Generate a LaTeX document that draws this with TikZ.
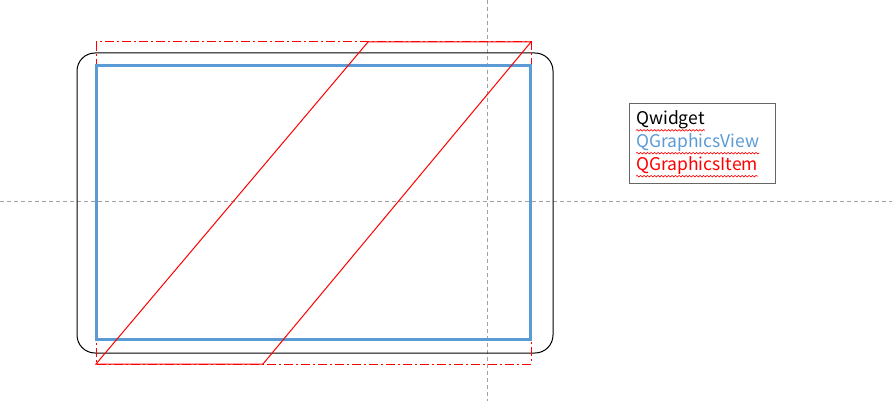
\documentclass[tikz,border=0pt]{standalone}
\usepackage{fontspec}
\newfontfamily\legendfont{Noto Sans CJK SC}
\usetikzlibrary{decorations.pathmorphing}
\definecolor{qblue}{HTML}{5B9BD5}
\definecolor{qred}{HTML}{FF0000}
\definecolor{guide}{HTML}{A0A0A0}
\begin{document}
\begin{tikzpicture}[x=1pt,y=-1pt,
  guideline/.style={draw=guide,line width=1pt,dash pattern=on 4pt off 3pt},
  widgetbox/.style={draw=black,line width=1pt,rounded corners=18pt},
  viewbox/.style={draw=qblue,line width=3pt},
  itembox/.style={draw=qred,line width=1pt,dash pattern=on 9pt off 3pt on 2pt off 3pt},
  itemshape/.style={draw=qred,line width=1pt},
  legendframe/.style={draw=black!60,line width=0.8pt},
  legendtext/.style={anchor=west,inner sep=0pt,font=\legendfont\fontsize{17.5}{20}\selectfont},
  squiggle/.style={draw=qred,line width=0.6pt,decorate,decoration={snake,amplitude=0.8pt,segment length=3.5pt}}]
\useasboundingbox (0,0) rectangle (892,401);
% guides
\draw[guideline] (487,0) -- (487,401);
\draw[guideline] (0,201) -- (892,201);
% widget
\draw[widgetbox] (77,53) rectangle (553,353);
% item bounding rect
\draw[itembox] (96,42) rectangle (531,364);
% view
\draw[viewbox] (96,66) rectangle (530,339);
% item parallelogram
\draw[itemshape] (96,364) -- (263,364) -- (531,42) -- (368,42) -- cycle;
% legend
\draw[legendframe] (629,103) rectangle (775,183);
\node[legendtext,text=black] (lw) at (636,120) {Qwidget};
\node[legendtext,text=qblue] (lv) at (636,143) {QGraphicsView};
\node[legendtext,text=qred] (li) at (636,166) {QGraphicsItem};
\draw[squiggle] ([yshift=-1pt]lw.south west) -- ([yshift=-1pt]lw.south east);
\draw[squiggle] ([yshift=-1pt]lv.south west) -- ([yshift=-1pt]lv.south east);
\draw[squiggle] ([yshift=-1pt]li.south west) -- ([yshift=-1pt]li.south east);
\end{tikzpicture}
\end{document}
